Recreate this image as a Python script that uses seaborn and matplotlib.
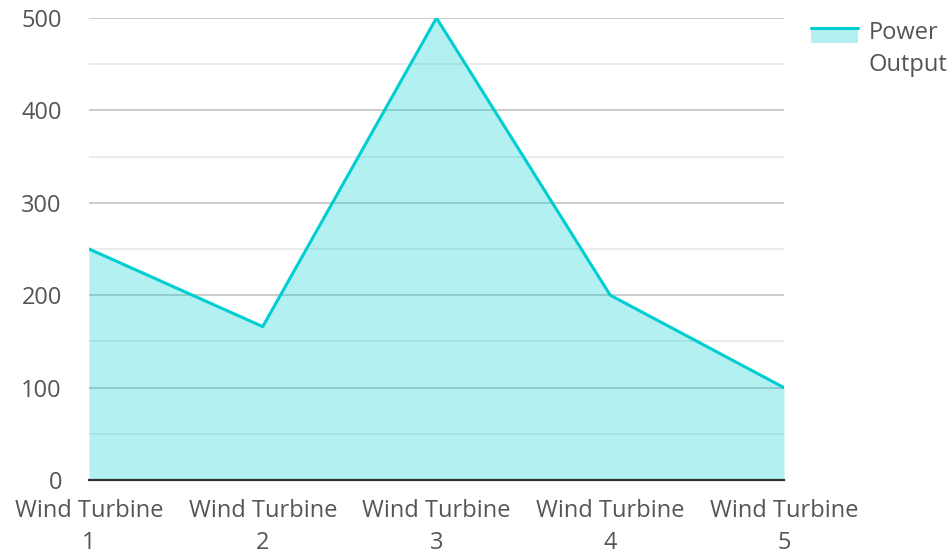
import pandas as pd
import matplotlib.pyplot as plt
import seaborn as sns
from matplotlib.lines import Line2D
from matplotlib.patches import Rectangle

# Data
turbines = ["Wind Turbine\n1", "Wind Turbine\n2", "Wind Turbine\n3", "Wind Turbine\n4", "Wind Turbine\n5"]
power_output = [250, 166, 500, 200, 100]

df = pd.DataFrame({"turbine": turbines, "power": power_output})
df["pos"] = range(len(df))

sns.set_style("white")
plt.rcParams["font.family"] = ["Open Sans", "DejaVu Sans"]

line_color = "#00CED1"
text_color = "#555555"
fs = 17


class AreaHandler:
    # line on top, light fill underneath, lined up with the first text line
    def legend_artist(self, legend, orig_handle, fontsize, handlebox):
        x0, y0 = handlebox.xdescent, handlebox.ydescent
        w, h = handlebox.width, handlebox.height
        dy = 0.68 * fontsize
        tr = handlebox.get_transform()
        rect = Rectangle((x0, y0 + dy), w, h, facecolor=line_color, alpha=0.3,
                         edgecolor="none", transform=tr)
        line = Line2D([x0, x0 + w], [y0 + dy + h, y0 + dy + h], color=line_color,
                      linewidth=2.2, transform=tr)
        handlebox.add_artist(rect)
        handlebox.add_artist(line)
        return rect


fig = plt.figure(figsize=(9.52, 5.53), dpi=100)
ax = fig.add_axes([0.0935, 0.132, 0.73, 0.8355])

ax.fill_between(df["pos"], df["power"], 0, color=line_color, alpha=0.3, linewidth=0, zorder=2)
sns.lineplot(data=df, x="pos", y="power", color=line_color, linewidth=2.2, ax=ax, zorder=3)

ax.set_xlim(0, len(df) - 1)
ax.set_ylim(0, 500)
ax.set_xticks(df["pos"])
ax.set_xticklabels(df["turbine"], linespacing=1.44)
ax.set_yticks(range(0, 501, 100))
ax.set_yticks(range(50, 500, 100), minor=True)
ax.grid(which="major", axis="y", color="#bdbdbd", linewidth=1.1, zorder=1)
ax.grid(which="minor", axis="y", color="#e6e6e6", linewidth=1.1, zorder=1)
ax.set_axisbelow(True)
ax.tick_params(axis="both", which="both", length=0, labelsize=fs, labelcolor=text_color)
ax.tick_params(axis="x", pad=14)
ax.tick_params(axis="y", pad=19.5)

for s in ["left", "right", "top"]:
    ax.spines[s].set_visible(False)
ax.spines["bottom"].set_color("#333333")
ax.spines["bottom"].set_linewidth(1.6)
ax.spines["bottom"].set_zorder(4)
ax.set_xlabel("")
ax.set_ylabel("")

leg = fig.legend([object()], ["Power\nOutput"], handler_map={object: AreaHandler()},
                 loc="upper left", bbox_to_anchor=(0.8294, 1.001), frameon=False,
                 fontsize=fs, handlelength=2.0, handleheight=0.6, handletextpad=0.45)
for t in leg.get_texts():
    t.set_color(text_color)
    t.set_linespacing(1.47)

fig.savefig("out.png", dpi=100)
